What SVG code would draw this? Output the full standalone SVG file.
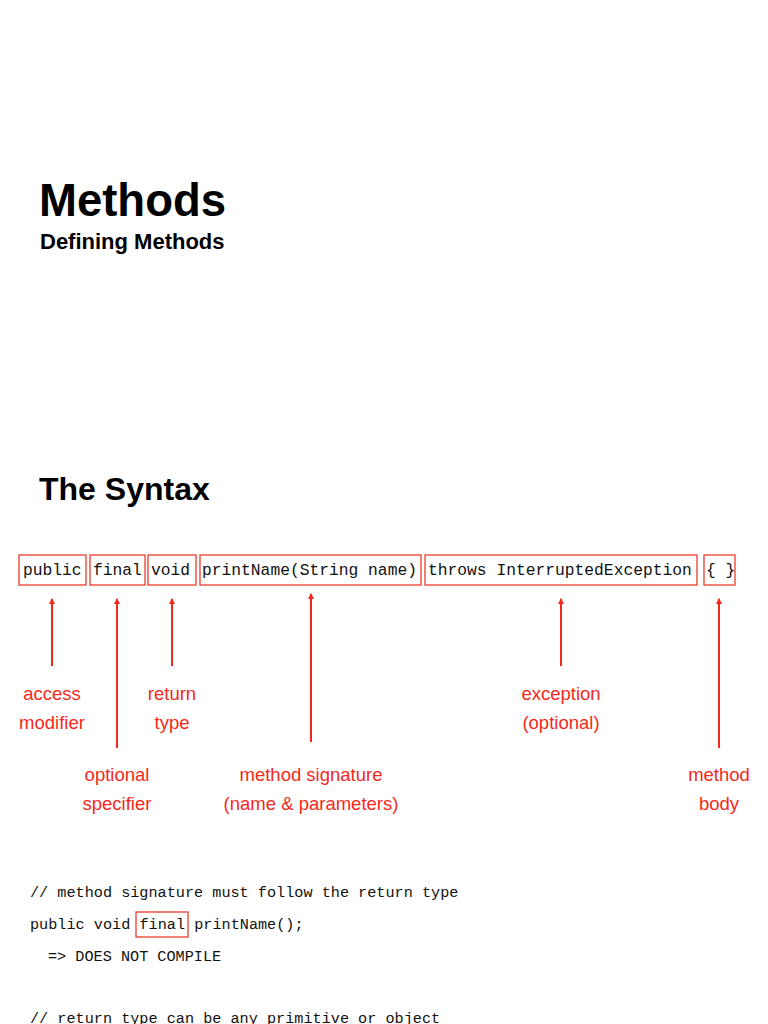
<svg xmlns="http://www.w3.org/2000/svg" width="768" height="1024" viewBox="0 0 768 1024">
<style>
.t{font-family:"Liberation Sans",Arial,sans-serif;font-weight:bold;fill:#000}
.m{font-family:"Liberation Mono","DejaVu Sans Mono",monospace;font-size:16.3px;fill:#111}
.c{font-family:"Liberation Mono","DejaVu Sans Mono",monospace;font-size:15.2px;fill:#111}
.b{fill:#fff;stroke:#ef3b2c;stroke-width:1.3}
.l{font-family:"Liberation Sans",Arial,sans-serif;font-size:18.5px;fill:#f5291b;text-anchor:middle}
.a{stroke:#f5291b;stroke-width:2;fill:none;marker-end:url(#ah)}
</style>
<defs>
<marker id="ah" markerWidth="6" markerHeight="6" refX="5" refY="3" orient="auto" markerUnits="userSpaceOnUse">
<path d="M0,0 L6,3 L0,6 z" fill="#f5291b"/>
</marker>
</defs>
<rect width="768" height="1024" fill="#fff"/>
<text class="t" x="39" y="216" font-size="45.5">Methods</text>
<text class="t" x="40" y="249" font-size="22">Defining Methods</text>
<text class="t" x="39" y="500" font-size="32">The Syntax</text>

<g id="public"><rect class="b" x="19" y="555" width="67" height="30"/><text class="m" x="23" y="575">public</text></g>
<g id="final"><rect class="b" x="90" y="555" width="55" height="30"/><text class="m" x="93" y="575">final</text></g>
<g id="void"><rect class="b" x="148" y="555" width="48" height="30"/><text class="m" x="151" y="575">void</text></g>
<g id="signature"><rect class="b" x="200" y="555" width="221" height="30"/><text class="m" x="202" y="575">printName(String name)</text></g>
<g id="throws"><rect class="b" x="425" y="555" width="272" height="30"/><text class="m" x="428" y="575">throws InterruptedException</text></g>
<g id="body"><rect class="b" x="704" y="555" width="31" height="30"/><text class="m" x="706" y="575">{ }</text></g>

<g id="connectors">
<line class="a" x1="52" y1="666" x2="52" y2="599"/>
<line class="a" x1="117" y1="748" x2="117" y2="599"/>
<line class="a" x1="172" y1="666" x2="172" y2="599"/>
<line class="a" x1="311" y1="742" x2="311" y2="594"/>
<line class="a" x1="561" y1="666" x2="561" y2="599"/>
<line class="a" x1="719" y1="748" x2="719" y2="599"/>
</g>

<g id="lbl-access"><text class="l" x="52" y="700">access</text><text class="l" x="52" y="729">modifier</text></g>
<g id="lbl-return"><text class="l" x="172" y="700">return</text><text class="l" x="172" y="729">type</text></g>
<g id="lbl-exception"><text class="l" x="561" y="700">exception</text><text class="l" x="561" y="729">(optional)</text></g>
<g id="lbl-optional"><text class="l" x="117" y="781">optional</text><text class="l" x="117" y="810">specifier</text></g>
<g id="lbl-signature"><text class="l" x="311" y="781">method signature</text><text class="l" x="311" y="810">(name &amp; parameters)</text></g>
<g id="lbl-body"><text class="l" x="719" y="781">method</text><text class="l" x="719" y="810">body</text></g>

<g id="code">
<text class="c" x="30" y="897">// method signature must follow the return type</text>
<text class="c" x="30" y="929">public void <tspan x="139.5">final</tspan> printName();</text>
<rect x="136" y="912" width="52" height="25" fill="none" stroke="#ef3b2c" stroke-width="1.3"/>
<text class="c" x="48" y="961">=&gt; DOES NOT COMPILE</text>
<text class="c" x="30" y="1023">// return type can be any primitive or object</text>
</g>
</svg>
